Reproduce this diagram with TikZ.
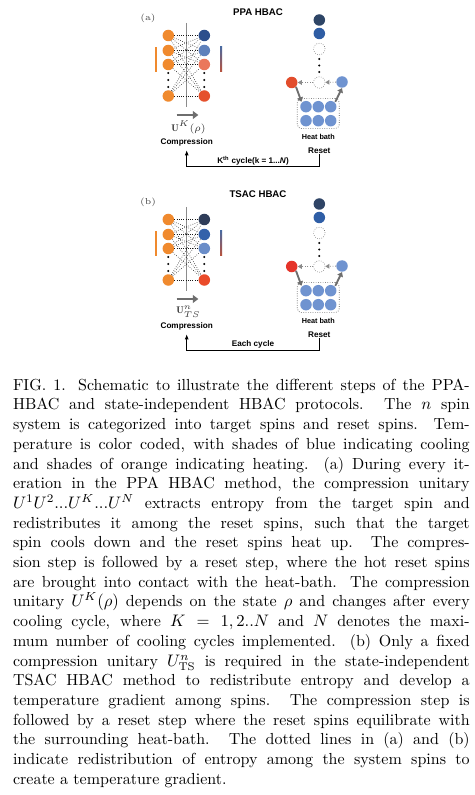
\documentclass[tikz,border=0pt]{standalone}
\usepackage{fontspec}
\usepackage{tikz}
\usetikzlibrary{positioning,arrows.meta}
\newfontfamily\figsans{Liberation Sans}

\definecolor{spinorange}{HTML}{F08A2E}
\definecolor{bathblue}{HTML}{6F93D0}
\definecolor{arrowgray}{HTML}{6E6E6E}
\definecolor{bartop}{HTML}{4A6AA0}
\definecolor{barbottom}{HTML}{B9523C}
\definecolor{spina1}{HTML}{2C4E8C}
\definecolor{spina2}{HTML}{5F81BB}
\definecolor{spina3}{HTML}{EA775B}
\definecolor{spina4}{HTML}{E5512D}
\definecolor{topa1}{HTML}{2E4566}
\definecolor{topa2}{HTML}{2F5DA4}
\definecolor{hota}{HTML}{E24D2C}
\definecolor{spinb1}{HTML}{2F3D59}
\definecolor{spinb2}{HTML}{3461AA}
\definecolor{spinb3}{HTML}{6A8DC8}
\definecolor{spinb4}{HTML}{EA4B2A}
\definecolor{topb1}{HTML}{2F4466}
\definecolor{topb2}{HTML}{2F5EA6}
\definecolor{hotb}{HTML}{E5342A}

\tikzset{
  spin/.style={circle, inner sep=0pt, minimum size=6.9pt, fill=#1},
  emptyspin/.style={circle, inner sep=0pt, minimum size=6.9pt, fill=white,
    draw=black!60, densely dotted, line width=0.35pt},
  mixline/.style={densely dotted, line width=0.35pt, black!90},
  heatflow/.style={arrowgray, line width=1.1pt, -{Triangle[length=2.6pt,width=3.6pt]}},
  backflow/.style={arrowgray!80, densely dotted, line width=0.5pt,
    -{Triangle[length=2.4pt,width=2.8pt]}},
  bathbox/.style={draw=black!70, densely dotted, rounded corners=2.5pt, line width=0.4pt,
    minimum width=25.2pt, minimum height=18pt},
  tag/.style={font=\figsans\bfseries\fontsize{#1}{#1}\selectfont, inner sep=0pt},
  tag/.default=4.9,
  caption/.style={anchor=north west, inner sep=0pt, align=left,
    font=\fontsize{9.6}{11.82}\selectfont}
}

\newcommand{\capline}[1]{\makebox[274pt][s]{#1}}

\newcommand{\spinpanel}[6]{%
  \begin{scope}[shift={(0,#2)}, name prefix=#1-]
    \node[inner sep=0pt, text=black!75, font=\fontsize{5.2}{6}\selectfont] (panel) at (148,18) {(#1)};
    \node[tag=5.8] (title) at (258,#6) {#3};
    \draw[black!45, line width=0.6pt] (186.7,23) -- (186.7,107);
    \foreach \y [count=\i] in {35.5,50.5,64.5,96} {
      \node[spin=spinorange] (l\i) at (168.3,\y) {};
      \node[spin=spin#1\i] (r\i) at (204.3,\y) {};
    }
    \foreach \i in {1,...,4}
      \foreach \j in {1,...,4}
        \draw[mixline] (l\i) -- (r\j);
    \foreach \y in {73,80,87} {
      \fill (168.3,\y) circle (0.65pt);
      \fill (204.3,\y) circle (0.65pt);
    }
    \fill[spinorange] (155,46.7) rectangle (157,71.7);
    \shade[top color=bartop, bottom color=barbottom] (220.2,46.7) rectangle (222.2,71.7);
    \draw[arrowgray, line width=1.6pt, -{Triangle[length=3.2pt,width=4.6pt]}] (176.7,115) -- (198.3,115);
    \node[inner sep=0pt, text=black!80, font=\fontsize{5.8}{6}\selectfont] (unitary) at (188.5,127.5) {$#4$};
    \node[tag] (compress) at (186.7,142) {Compression};
    \node[spin=top#11] (t1) at (319.3,20) {};
    \node[spin=top#12] (t2) at (319.3,33.5) {};
    \node[emptyspin] (t3) at (319.3,49) {};
    \foreach \y in {59,65.5,72}
      \fill (319.3,\y) circle (0.65pt);
    \node[emptyspin] (mid) at (319.3,82.5) {};
    \node[spin=hot#1] (hot) at (291.7,82.5) {};
    \node[spin=bathblue] (cold) at (342,82) {};
    \foreach \x [count=\i] in {306,318.3,330.7} {
      \node[spin=bathblue] (b\i) at (\x,106.7) {};
      \node[spin=bathblue] (c\i) at (\x,120.7) {};
    }
    \node[bathbox] (bath) at (318.3,113.6) {};
    \draw[backflow] (mid) -- (hot);
    \draw[backflow] (cold) -- (mid);
    \draw[heatflow, shorten >=0.4pt] (hot.south east) -- (b1.north west);
    \draw[heatflow, shorten <=0.4pt] (b3.north east) -- (cold.south);
    \node[tag=4.35] (heat) at (318.3,137) {Heat bath};
    \node[tag] (reset) at (319.3,151) {Reset};
    \coordinate (turn) at (186.7,166);
    \draw[line width=0.5pt, shorten >=2.5pt, -{Latex[length=3pt,width=2.4pt]}] (reset.south) |- (turn) -- (compress.south);
    \node[tag] (cycle) at (253,160.5) {#5};
  \end{scope}}

\begin{document}
\begin{tikzpicture}[x=0.6pt, y=-0.6pt]
  \useasboundingbox (0,0) rectangle (474,795);
  \fill[white] (0,0) rectangle (474,795);
  \spinpanel{a}{0}{PPA HBAC}{\mathbf{U}^{K}(\rho)}{K\textsuperscript{th} cycle(k = 1...\textit{N})}{12.5}
  \spinpanel{b}{184}{TSAC HBAC}{\mathbf{U}^{n}_{TS}}{Each cycle}{10.5}
  \node[caption] (caption) at (12.7,378.5) {%
    \capline{FIG. 1. Schematic to illustrate the different steps of the PPA-}\\
    \capline{HBAC and state-independent HBAC protocols. The $n$ spin}\\
    \capline{system is categorized into target spins and reset spins. Tem-}\\
    \capline{perature is color coded, with shades of blue indicating cooling}\\
    \capline{and shades of orange indicating heating. (a) During every it-}\\
    \capline{eration in the PPA HBAC method, the compression unitary}\\
    \capline{$U^1U^2...U^K...U^N$ extracts entropy from the target spin and}\\
    \capline{redistributes it among the reset spins, such that the target}\\
    \capline{spin cools down and the reset spins heat up. The compres-}\\
    \capline{sion step is followed by a reset step, where the hot reset spins}\\
    \capline{are brought into contact with the heat-bath. The compression}\\
    \capline{unitary $U^K(\rho)$ depends on the state $\rho$ and changes after every}\\
    \capline{cooling cycle, where $K = 1,2..N$ and $N$ denotes the maxi-}\\
    \capline{mum number of cooling cycles implemented. (b) Only a fixed}\\
    \capline{compression unitary $U_{\rm TS}^n$ is required in the state-independent}\\
    \capline{TSAC HBAC method to redistribute entropy and develop a}\\
    \capline{temperature gradient among spins. The compression step is}\\
    \capline{followed by a reset step where the reset spins equilibrate with}\\
    \capline{the surrounding heat-bath. The dotted lines in (a) and (b)}\\
    \capline{indicate redistribution of entropy among the system spins to}\\
    create a temperature gradient.};
\end{tikzpicture}
\end{document}
